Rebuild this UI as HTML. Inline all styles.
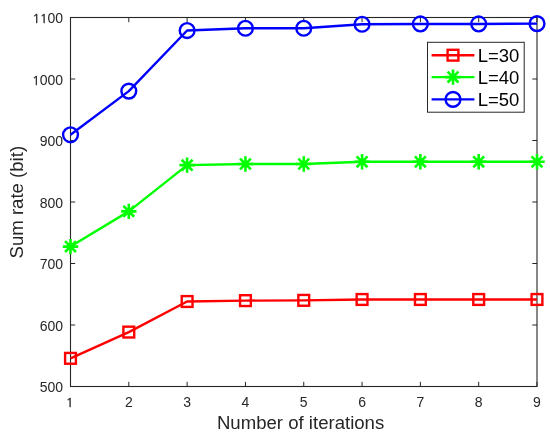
<!DOCTYPE html>
<html><head><meta charset="utf-8"><style>
html,body{margin:0;padding:0;background:#fff;width:550px;height:439px;overflow:hidden}
svg{display:block}
</style></head><body>
<svg width="550" height="439" viewBox="0 0 550 439">
<rect width="550" height="439" fill="#fff"/>
<path d="M70.50 386.50V381.80M70.50 17.50V22.20M128.81 386.50V381.80M128.81 17.50V22.20M187.12 386.50V381.80M187.12 17.50V22.20M245.44 386.50V381.80M245.44 17.50V22.20M303.75 386.50V381.80M303.75 17.50V22.20M362.06 386.50V381.80M362.06 17.50V22.20M420.38 386.50V381.80M420.38 17.50V22.20M478.69 386.50V381.80M478.69 17.50V22.20M537.00 386.50V381.80M537.00 17.50V22.20M70.50 386.50H75.20M537.00 386.50H532.30M70.50 325.00H75.20M537.00 325.00H532.30M70.50 263.50H75.20M537.00 263.50H532.30M70.50 202.00H75.20M537.00 202.00H532.30M70.50 140.50H75.20M537.00 140.50H532.30M70.50 79.00H75.20M537.00 79.00H532.30M70.50 17.50H75.20M537.00 17.50H532.30" stroke="#262626" stroke-width="1" fill="none"/>
<rect x="70.5" y="17.5" width="466.50" height="369.00" fill="none" stroke="#262626" stroke-width="1.1"/>
<polyline points="70.50,358.33 128.81,332.07 187.12,301.51 245.44,300.62 303.75,300.34 362.06,299.48 420.38,299.48 478.69,299.48 537.00,299.48" fill="none" stroke="#f00" stroke-width="2.4" stroke-linejoin="round"/>
<polyline points="70.50,246.59 128.81,211.35 187.12,165.16 245.44,163.99 303.75,163.99 362.06,161.78 420.38,161.78 478.69,161.78 537.00,161.78" fill="none" stroke="#0f0" stroke-width="2.4" stroke-linejoin="round"/>
<polyline points="70.50,134.78 128.81,91.12 187.12,30.54 245.44,28.26 303.75,28.26 362.06,24.26 420.38,23.96 478.69,23.96 537.00,23.65" fill="none" stroke="#00f" stroke-width="2.4" stroke-linejoin="round"/>
<rect x="65.10" y="352.93" width="10.8" height="10.8" fill="none" stroke="#f00" stroke-width="2.4"/>
<rect x="123.41" y="326.67" width="10.8" height="10.8" fill="none" stroke="#f00" stroke-width="2.4"/>
<rect x="181.72" y="296.11" width="10.8" height="10.8" fill="none" stroke="#f00" stroke-width="2.4"/>
<rect x="240.04" y="295.22" width="10.8" height="10.8" fill="none" stroke="#f00" stroke-width="2.4"/>
<rect x="298.35" y="294.94" width="10.8" height="10.8" fill="none" stroke="#f00" stroke-width="2.4"/>
<rect x="356.66" y="294.08" width="10.8" height="10.8" fill="none" stroke="#f00" stroke-width="2.4"/>
<rect x="414.98" y="294.08" width="10.8" height="10.8" fill="none" stroke="#f00" stroke-width="2.4"/>
<rect x="473.29" y="294.08" width="10.8" height="10.8" fill="none" stroke="#f00" stroke-width="2.4"/>
<rect x="531.60" y="294.08" width="10.8" height="10.8" fill="none" stroke="#f00" stroke-width="2.4"/>
<path d="M62.80 246.59H78.20M70.50 238.89V254.29M65.06 241.14L75.94 252.03M65.06 252.03L75.94 241.14" stroke="#0f0" stroke-width="2.6" fill="none"/>
<path d="M121.11 211.35H136.51M128.81 203.65V219.05M123.37 205.90L134.26 216.79M123.37 216.79L134.26 205.90" stroke="#0f0" stroke-width="2.6" fill="none"/>
<path d="M179.43 165.16H194.82M187.12 157.46V172.86M181.68 159.72L192.57 170.61M181.68 170.61L192.57 159.72" stroke="#0f0" stroke-width="2.6" fill="none"/>
<path d="M237.74 163.99H253.14M245.44 156.29V171.69M239.99 158.55L250.88 169.44M239.99 169.44L250.88 158.55" stroke="#0f0" stroke-width="2.6" fill="none"/>
<path d="M296.05 163.99H311.45M303.75 156.29V171.69M298.31 158.55L309.19 169.44M298.31 169.44L309.19 158.55" stroke="#0f0" stroke-width="2.6" fill="none"/>
<path d="M354.36 161.78H369.76M362.06 154.08V169.48M356.62 156.33L367.51 167.22M356.62 167.22L367.51 156.33" stroke="#0f0" stroke-width="2.6" fill="none"/>
<path d="M412.68 161.78H428.07M420.38 154.08V169.48M414.93 156.33L425.82 167.22M414.93 167.22L425.82 156.33" stroke="#0f0" stroke-width="2.6" fill="none"/>
<path d="M470.99 161.78H486.39M478.69 154.08V169.48M473.24 156.33L484.13 167.22M473.24 167.22L484.13 156.33" stroke="#0f0" stroke-width="2.6" fill="none"/>
<path d="M529.30 161.78H544.70M537.00 154.08V169.48M531.56 156.33L542.44 167.22M531.56 167.22L542.44 156.33" stroke="#0f0" stroke-width="2.6" fill="none"/>
<circle cx="70.50" cy="134.78" r="7.4" fill="none" stroke="#00f" stroke-width="2.4"/>
<circle cx="128.81" cy="91.12" r="7.4" fill="none" stroke="#00f" stroke-width="2.4"/>
<circle cx="187.12" cy="30.54" r="7.4" fill="none" stroke="#00f" stroke-width="2.4"/>
<circle cx="245.44" cy="28.26" r="7.4" fill="none" stroke="#00f" stroke-width="2.4"/>
<circle cx="303.75" cy="28.26" r="7.4" fill="none" stroke="#00f" stroke-width="2.4"/>
<circle cx="362.06" cy="24.26" r="7.4" fill="none" stroke="#00f" stroke-width="2.4"/>
<circle cx="420.38" cy="23.96" r="7.4" fill="none" stroke="#00f" stroke-width="2.4"/>
<circle cx="478.69" cy="23.96" r="7.4" fill="none" stroke="#00f" stroke-width="2.4"/>
<circle cx="537.00" cy="23.65" r="7.4" fill="none" stroke="#00f" stroke-width="2.4"/>
<g font-family="Liberation Sans, Arial, sans-serif" fill="#262626" font-size="14.0">
<text x="69.70" y="407.2" text-anchor="middle"><tspan font-family="NanumGothic" font-size="13.2" letter-spacing="-0.35" stroke="#262626" stroke-width="0.35">1</tspan></text>
<text x="128.81" y="407.2" text-anchor="middle">2</text>
<text x="187.12" y="407.2" text-anchor="middle">3</text>
<text x="245.44" y="407.2" text-anchor="middle">4</text>
<text x="303.75" y="407.2" text-anchor="middle">5</text>
<text x="362.06" y="407.2" text-anchor="middle">6</text>
<text x="420.38" y="407.2" text-anchor="middle">7</text>
<text x="478.69" y="407.2" text-anchor="middle">8</text>
<text x="537.00" y="407.2" text-anchor="middle">9</text>
<text x="63.0" y="392.00" text-anchor="end">500</text>
<text x="63.0" y="330.50" text-anchor="end">600</text>
<text x="63.0" y="269.00" text-anchor="end">700</text>
<text x="63.0" y="207.50" text-anchor="end">800</text>
<text x="63.0" y="146.00" text-anchor="end">900</text>
<text x="63.0" y="84.50" text-anchor="end"><tspan font-family="NanumGothic" font-size="13.2" letter-spacing="-0.35" stroke="#262626" stroke-width="0.35">1</tspan>000</text>
<text x="63.0" y="22.50" text-anchor="end"><tspan font-family="NanumGothic" font-size="13.2" letter-spacing="-0.35" stroke="#262626" stroke-width="0.35">11</tspan>00</text>
</g>
<text transform="translate(300.6 429.1) scale(1 1.02)" text-anchor="middle" font-family="Liberation Sans, Arial, sans-serif" font-size="18.6" fill="#262626">Number of iterations</text>
<text transform="translate(23.4 202.2) rotate(-90) scale(1 1.02)" text-anchor="middle" font-family="Liberation Sans, Arial, sans-serif" font-size="18.6" fill="#262626">Sum rate (bit)</text>
<rect x="427.5" y="42.3" width="96.7" height="69.9" fill="#fff" stroke="#262626" stroke-width="1"/>
<path d="M431.6 55.2H474.4" stroke="#f00" stroke-width="2.4"/>
<rect x="447.60" y="49.80" width="10.8" height="10.8" fill="none" stroke="#f00" stroke-width="2.4"/>
<text transform="translate(477.7 61.90) scale(1 1.03)" font-family="Liberation Sans, Arial, sans-serif" font-size="18.5" fill="#000">L=30</text>
<path d="M431.6 77.1H474.4" stroke="#0f0" stroke-width="2.4"/>
<path d="M445.30 77.10H460.70M453.00 69.40V84.80M447.56 71.66L458.44 82.54M447.56 82.54L458.44 71.66" stroke="#0f0" stroke-width="2.6" fill="none"/>
<text transform="translate(477.7 83.80) scale(1 1.03)" font-family="Liberation Sans, Arial, sans-serif" font-size="18.5" fill="#000">L=40</text>
<path d="M431.6 99.4H474.4" stroke="#00f" stroke-width="2.4"/>
<circle cx="453.00" cy="99.40" r="7.4" fill="none" stroke="#00f" stroke-width="2.4"/>
<text transform="translate(477.7 106.10) scale(1 1.03)" font-family="Liberation Sans, Arial, sans-serif" font-size="18.5" fill="#000">L=50</text>
</svg>
</body></html>
